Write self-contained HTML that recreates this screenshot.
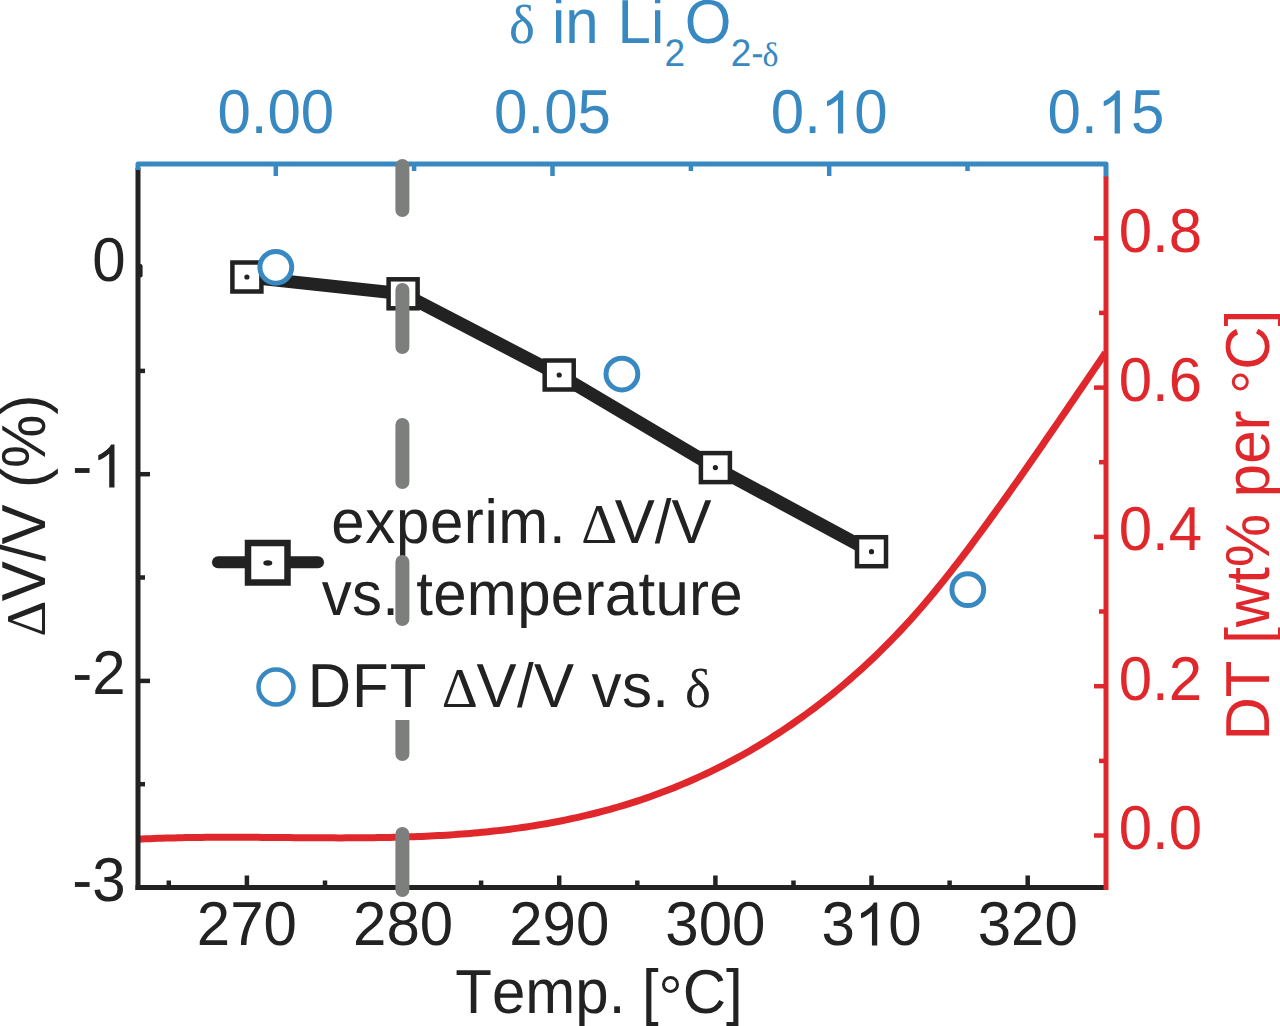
<!DOCTYPE html>
<html><head><meta charset="utf-8"><style>
html,body{margin:0;padding:0;background:#fff;width:1280px;height:1026px;overflow:hidden}
svg{display:block}
text{font-kerning:none;font-feature-settings:"kern" 0;text-rendering:geometricPrecision}
</style></head><body>
<svg width="1280" height="1026" viewBox="0 0 1280 1026">
<rect width="1280" height="1026" fill="#fff"/>
<path d="M138.0 839.21 L142.0 839.02 L146.0 838.83 L150.0 838.66 L154.0 838.51 L158.0 838.36 L162.0 838.22 L166.0 838.10 L170.0 837.98 L174.0 837.88 L178.0 837.78 L182.0 837.70 L186.0 837.62 L190.0 837.55 L194.0 837.49 L198.0 837.44 L202.0 837.39 L206.0 837.36 L210.0 837.32 L214.0 837.30 L218.0 837.28 L222.0 837.27 L226.0 837.26 L230.0 837.26 L234.0 837.26 L238.0 837.27 L242.0 837.28 L246.0 837.30 L250.0 837.32 L254.0 837.34 L258.0 837.36 L262.0 837.39 L266.0 837.42 L270.0 837.45 L274.0 837.48 L278.0 837.51 L282.0 837.54 L286.0 837.58 L290.0 837.61 L294.0 837.64 L298.0 837.68 L302.0 837.71 L306.0 837.74 L310.0 837.76 L314.0 837.79 L318.0 837.81 L322.0 837.83 L326.0 837.85 L330.0 837.86 L334.0 837.87 L338.0 837.88 L342.0 837.88 L346.0 837.87 L350.0 837.87 L354.0 837.85 L358.0 837.83 L362.0 837.80 L366.0 837.77 L370.0 837.73 L374.0 837.68 L378.0 837.62 L382.0 837.56 L386.0 837.48 L390.0 837.40 L394.0 837.31 L398.0 837.21 L402.0 837.10 L406.0 836.98 L410.0 836.85 L414.0 836.71 L418.0 836.56 L422.0 836.39 L426.0 836.22 L430.0 836.03 L434.0 835.83 L438.0 835.62 L442.0 835.39 L446.0 835.15 L450.0 834.89 L454.0 834.62 L458.0 834.34 L462.0 834.04 L466.0 833.73 L470.0 833.40 L474.0 833.05 L478.0 832.69 L482.0 832.31 L486.0 831.92 L490.0 831.51 L494.0 831.07 L498.0 830.63 L502.0 830.16 L506.0 829.67 L510.0 829.17 L514.0 828.64 L518.0 828.10 L522.0 827.53 L526.0 826.95 L530.0 826.34 L534.0 825.71 L538.0 825.06 L542.0 824.39 L546.0 823.70 L550.0 822.98 L554.0 822.24 L558.0 821.48 L562.0 820.70 L566.0 819.89 L570.0 819.05 L574.0 818.19 L578.0 817.31 L582.0 816.40 L586.0 815.46 L590.0 814.50 L594.0 813.51 L598.0 812.50 L602.0 811.46 L606.0 810.39 L610.0 809.29 L614.0 808.17 L618.0 807.01 L622.0 805.83 L626.0 804.62 L630.0 803.38 L634.0 802.11 L638.0 800.80 L642.0 799.47 L646.0 798.11 L650.0 796.72 L654.0 795.29 L658.0 793.83 L662.0 792.34 L666.0 790.82 L670.0 789.26 L674.0 787.67 L678.0 786.05 L682.0 784.39 L686.0 782.70 L690.0 780.97 L694.0 779.21 L698.0 777.42 L702.0 775.58 L706.0 773.71 L710.0 771.81 L714.0 769.87 L718.0 767.89 L722.0 765.87 L726.0 763.82 L730.0 761.72 L734.0 759.59 L738.0 757.42 L742.0 755.21 L746.0 752.96 L750.0 750.67 L754.0 748.34 L758.0 745.97 L762.0 743.56 L766.0 741.11 L770.0 738.61 L774.0 736.08 L778.0 733.50 L782.0 730.88 L786.0 728.21 L790.0 725.50 L794.0 722.75 L798.0 719.96 L802.0 717.11 L806.0 714.23 L810.0 711.30 L814.0 708.32 L818.0 705.29 L822.0 702.22 L826.0 699.09 L830.0 695.91 L834.0 692.69 L838.0 689.41 L842.0 686.07 L846.0 682.68 L850.0 679.24 L854.0 675.74 L858.0 672.18 L862.0 668.56 L866.0 664.89 L870.0 661.15 L874.0 657.36 L878.0 653.50 L882.0 649.57 L886.0 645.59 L890.0 641.54 L894.0 637.42 L898.0 633.24 L902.0 628.98 L906.0 624.66 L910.0 620.27 L914.0 615.81 L918.0 611.28 L922.0 606.67 L926.0 602.00 L930.0 597.25 L934.0 592.44 L938.0 587.56 L942.0 582.62 L946.0 577.62 L950.0 572.57 L954.0 567.46 L958.0 562.29 L962.0 557.08 L966.0 551.82 L970.0 546.52 L974.0 541.17 L978.0 535.78 L982.0 530.35 L986.0 524.89 L990.0 519.40 L994.0 513.87 L998.0 508.32 L1002.0 502.73 L1006.0 497.12 L1010.0 491.49 L1014.0 485.83 L1018.0 480.15 L1022.0 474.45 L1026.0 468.72 L1030.0 462.98 L1034.0 457.22 L1038.0 451.45 L1042.0 445.66 L1046.0 439.85 L1050.0 434.04 L1054.0 428.21 L1058.0 422.37 L1062.0 416.53 L1066.0 410.67 L1070.0 404.81 L1074.0 398.95 L1078.0 393.08 L1082.0 387.22 L1086.0 381.35 L1090.0 375.48 L1094.0 369.61 L1098.0 363.75 L1102.0 357.89 L1105.5 352.77" fill="none" stroke="#e0282c" stroke-width="7" stroke-linejoin="round"/>
<line x1="138.0" y1="168.0" x2="138.0" y2="890.0" stroke="#222222" stroke-width="5"/>
<line x1="135.5" y1="887.5" x2="1106.0" y2="887.5" stroke="#222222" stroke-width="5"/>
<line x1="1106.0" y1="176.0" x2="1106.0" y2="890.0" stroke="#e0282c" stroke-width="5"/>
<path d="M138.0 170 V164.0 H1106.0 V176.5" fill="none" stroke="#3889c2" stroke-width="5" stroke-linejoin="round"/>
<line x1="168.8" y1="887.5" x2="168.8" y2="880.5" stroke="#222222" stroke-width="4.5"/>
<line x1="246.9" y1="887.5" x2="246.9" y2="875.5" stroke="#222222" stroke-width="4.5"/>
<line x1="325.0" y1="887.5" x2="325.0" y2="880.5" stroke="#222222" stroke-width="4.5"/>
<line x1="403.1" y1="887.5" x2="403.1" y2="875.5" stroke="#222222" stroke-width="4.5"/>
<line x1="481.1" y1="887.5" x2="481.1" y2="880.5" stroke="#222222" stroke-width="4.5"/>
<line x1="559.2" y1="887.5" x2="559.2" y2="875.5" stroke="#222222" stroke-width="4.5"/>
<line x1="637.3" y1="887.5" x2="637.3" y2="880.5" stroke="#222222" stroke-width="4.5"/>
<line x1="715.4" y1="887.5" x2="715.4" y2="875.5" stroke="#222222" stroke-width="4.5"/>
<line x1="793.5" y1="887.5" x2="793.5" y2="880.5" stroke="#222222" stroke-width="4.5"/>
<line x1="871.5" y1="887.5" x2="871.5" y2="875.5" stroke="#222222" stroke-width="4.5"/>
<line x1="949.6" y1="887.5" x2="949.6" y2="880.5" stroke="#222222" stroke-width="4.5"/>
<line x1="1027.7" y1="887.5" x2="1027.7" y2="875.5" stroke="#222222" stroke-width="4.5"/>
<line x1="138.0" y1="784.2" x2="145.0" y2="784.2" stroke="#222222" stroke-width="4.5"/>
<line x1="138.0" y1="680.9" x2="150.0" y2="680.9" stroke="#222222" stroke-width="4.5"/>
<line x1="138.0" y1="577.5" x2="145.0" y2="577.5" stroke="#222222" stroke-width="4.5"/>
<line x1="138.0" y1="474.2" x2="150.0" y2="474.2" stroke="#222222" stroke-width="4.5"/>
<line x1="138.0" y1="370.9" x2="145.0" y2="370.9" stroke="#222222" stroke-width="4.5"/>
<rect x="138" y="264" width="4.6" height="13.5" rx="2.2" fill="#222222"/>
<line x1="275.8" y1="164.0" x2="275.8" y2="176.0" stroke="#3889c2" stroke-width="4.5"/>
<line x1="414.1" y1="164.0" x2="414.1" y2="171.0" stroke="#3889c2" stroke-width="4.5"/>
<line x1="552.5" y1="164.0" x2="552.5" y2="176.0" stroke="#3889c2" stroke-width="4.5"/>
<line x1="690.9" y1="164.0" x2="690.9" y2="171.0" stroke="#3889c2" stroke-width="4.5"/>
<line x1="829.2" y1="164.0" x2="829.2" y2="176.0" stroke="#3889c2" stroke-width="4.5"/>
<line x1="967.5" y1="164.0" x2="967.5" y2="171.0" stroke="#3889c2" stroke-width="4.5"/>
<line x1="1106.0" y1="835.5" x2="1094.0" y2="835.5" stroke="#e0282c" stroke-width="4.5"/>
<line x1="1106.0" y1="760.9" x2="1099.0" y2="760.9" stroke="#e0282c" stroke-width="4.5"/>
<line x1="1106.0" y1="686.2" x2="1094.0" y2="686.2" stroke="#e0282c" stroke-width="4.5"/>
<line x1="1106.0" y1="611.5" x2="1099.0" y2="611.5" stroke="#e0282c" stroke-width="4.5"/>
<line x1="1106.0" y1="536.9" x2="1094.0" y2="536.9" stroke="#e0282c" stroke-width="4.5"/>
<line x1="1106.0" y1="462.2" x2="1099.0" y2="462.2" stroke="#e0282c" stroke-width="4.5"/>
<line x1="1106.0" y1="387.6" x2="1094.0" y2="387.6" stroke="#e0282c" stroke-width="4.5"/>
<line x1="1106.0" y1="312.9" x2="1099.0" y2="312.9" stroke="#e0282c" stroke-width="4.5"/>
<line x1="1106.0" y1="238.3" x2="1094.0" y2="238.3" stroke="#e0282c" stroke-width="4.5"/>
<g transform="translate(196.85 945.40) scale(1 1.0350)"><text x="0" y="0" font-family="'Liberation Sans', sans-serif" font-size="60" fill="#222222">270</text></g>
<g transform="translate(353.01 945.40) scale(1 1.0350)"><text x="0" y="0" font-family="'Liberation Sans', sans-serif" font-size="60" fill="#222222">280</text></g>
<g transform="translate(509.17 945.40) scale(1 1.0350)"><text x="0" y="0" font-family="'Liberation Sans', sans-serif" font-size="60" fill="#222222">290</text></g>
<g transform="translate(665.33 945.40) scale(1 1.0350)"><text x="0" y="0" font-family="'Liberation Sans', sans-serif" font-size="60" fill="#222222">300</text></g>
<g transform="translate(821.49 945.40) scale(1 1.0350)"><text x="0.00" y="0" font-family="'Liberation Sans', sans-serif" font-size="60" fill="#222222">3</text><path d="M763 0L583 0L583 1147Q518 1085 412.5 1023Q307 961 210 925L210 1099Q384 1181 499 1282.5Q614 1384 649 1466L763 1466Z" transform="translate(33.37 0) scale(0.02930 -0.02831)" fill="#222222"/><text x="66.74" y="0" font-family="'Liberation Sans', sans-serif" font-size="60" fill="#222222">0</text></g>
<g transform="translate(977.65 945.40) scale(1 1.0350)"><text x="0" y="0" font-family="'Liberation Sans', sans-serif" font-size="60" fill="#222222">320</text></g>
<g transform="translate(92.13 280.70) scale(1 1.0350)"><text x="0" y="0" font-family="'Liberation Sans', sans-serif" font-size="60" fill="#222222">0</text></g>
<g transform="translate(72.15 487.40) scale(1 1.0350)"><text x="0.00" y="0" font-family="'Liberation Sans', sans-serif" font-size="60" fill="#222222">-</text><path d="M763 0L583 0L583 1147Q518 1085 412.5 1023Q307 961 210 925L210 1099Q384 1181 499 1282.5Q614 1384 649 1466L763 1466Z" transform="translate(19.98 0) scale(0.02930 -0.02831)" fill="#222222"/></g>
<g transform="translate(72.15 694.10) scale(1 1.0350)"><text x="0" y="0" font-family="'Liberation Sans', sans-serif" font-size="60" fill="#222222">-2</text></g>
<g transform="translate(72.15 900.80) scale(1 1.0350)"><text x="0" y="0" font-family="'Liberation Sans', sans-serif" font-size="60" fill="#222222">-3</text></g>
<g transform="translate(217.41 133.40) scale(1 1.0350)"><text x="0" y="0" font-family="'Liberation Sans', sans-serif" font-size="60" fill="#3889c2">0.00</text></g>
<g transform="translate(494.11 133.40) scale(1 1.0350)"><text x="0" y="0" font-family="'Liberation Sans', sans-serif" font-size="60" fill="#3889c2">0.05</text></g>
<g transform="translate(770.81 133.40) scale(1 1.0350)"><text x="0.00" y="0" font-family="'Liberation Sans', sans-serif" font-size="60" fill="#3889c2">0.</text><path d="M763 0L583 0L583 1147Q518 1085 412.5 1023Q307 961 210 925L210 1099Q384 1181 499 1282.5Q614 1384 649 1466L763 1466Z" transform="translate(50.04 0) scale(0.02930 -0.02831)" fill="#3889c2"/><text x="83.41" y="0" font-family="'Liberation Sans', sans-serif" font-size="60" fill="#3889c2">0</text></g>
<g transform="translate(1047.51 133.40) scale(1 1.0350)"><text x="0.00" y="0" font-family="'Liberation Sans', sans-serif" font-size="60" fill="#3889c2">0.</text><path d="M763 0L583 0L583 1147Q518 1085 412.5 1023Q307 961 210 925L210 1099Q384 1181 499 1282.5Q614 1384 649 1466L763 1466Z" transform="translate(50.04 0) scale(0.02930 -0.02831)" fill="#3889c2"/><text x="83.41" y="0" font-family="'Liberation Sans', sans-serif" font-size="60" fill="#3889c2">5</text></g>
<g transform="translate(1118.66 849.00) scale(1 1.0350)"><text x="0" y="0" font-family="'Liberation Sans', sans-serif" font-size="60" fill="#e0282c">0.0</text></g>
<g transform="translate(1118.66 699.70) scale(1 1.0350)"><text x="0" y="0" font-family="'Liberation Sans', sans-serif" font-size="60" fill="#e0282c">0.2</text></g>
<g transform="translate(1118.66 550.40) scale(1 1.0350)"><text x="0" y="0" font-family="'Liberation Sans', sans-serif" font-size="60" fill="#e0282c">0.4</text></g>
<g transform="translate(1118.66 401.10) scale(1 1.0350)"><text x="0" y="0" font-family="'Liberation Sans', sans-serif" font-size="60" fill="#e0282c">0.6</text></g>
<g transform="translate(1118.66 251.80) scale(1 1.0350)"><text x="0" y="0" font-family="'Liberation Sans', sans-serif" font-size="60" fill="#e0282c">0.8</text></g>
<g transform="translate(455.35 1012.90) scale(1 1.0350)"><text x="0" y="0" font-family="'Liberation Sans', sans-serif" font-size="60" fill="#222222">Temp. [</text></g>
<g transform="translate(682.77 1012.90) scale(1 1.0350)"><text x="0" y="0" font-family="'Liberation Sans', sans-serif" font-size="60" fill="#222222">C]</text></g>
<circle cx="670.5" cy="984.4" r="7" fill="none" stroke="#222222" stroke-width="3"/>
<g transform="translate(45.2 634.5) rotate(-90)"><g transform="translate(-2.13 0.00) scale(1 1.0000)"><text x="0" y="0" font-family="'Liberation Serif', serif" font-size="56" fill="#222222">Δ</text></g><g transform="translate(33.24 0.00) scale(1 1.0350)"><text x="0" y="0" font-family="'Liberation Sans', sans-serif" font-size="60" fill="#222222">V/V (%)</text></g></g>
<g transform="translate(1268.8 740.5) rotate(-90)"><g transform="translate(0.00 0.00) scale(1 1.0350)"><text x="0" y="0" font-family="'Liberation Sans', sans-serif" font-size="60" fill="#e0282c">DT [wt% per </text></g><g transform="translate(370.72 0.00) scale(1 1.0350)"><text x="0" y="0" font-family="'Liberation Sans', sans-serif" font-size="60" fill="#e0282c">C]</text></g></g>
<circle cx="1240.3" cy="381.9" r="7" fill="none" stroke="#e0282c" stroke-width="3"/>
<g transform="translate(509.03 42.50) scale(1 1.0000)"><text x="0" y="0" font-family="'Liberation Serif', serif" font-size="55" fill="#3889c2">δ</text></g>
<g transform="translate(551.89 42.50) scale(1 1.0350)"><text x="0" y="0" font-family="'Liberation Sans', sans-serif" font-size="60" fill="#3889c2">in</text></g>
<g transform="translate(617.58 42.50) scale(1 1.0350)"><text x="0" y="0" font-family="'Liberation Sans', sans-serif" font-size="60" fill="#3889c2">Li</text></g>
<g transform="translate(664.54 66.20) scale(1 1.0350)"><text x="0" y="0" font-family="'Liberation Sans', sans-serif" font-size="37" fill="#3889c2">2</text></g>
<g transform="translate(684.86 42.50) scale(1 1.0350)"><text x="0" y="0" font-family="'Liberation Sans', sans-serif" font-size="60" fill="#3889c2">O</text></g>
<g transform="translate(730.64 66.20) scale(1 1.0350)"><text x="0" y="0" font-family="'Liberation Sans', sans-serif" font-size="37" fill="#3889c2">2-</text></g>
<g transform="translate(762.42 66.20) scale(1 1.0000)"><text x="0" y="0" font-family="'Liberation Serif', serif" font-size="34" fill="#3889c2">δ</text></g>
<polyline points="246.9,277.0 403.1,293.8 559.2,375.0 715.4,467.6 871.5,551.7" fill="none" stroke="#222222" stroke-width="13" stroke-linejoin="miter"/>
<rect x="232.4" y="262.5" width="29" height="29" fill="#fff" stroke="#222222" stroke-width="4.5"/>
<circle cx="246.9" cy="277.0" r="2.6" fill="#222222"/>
<rect x="388.6" y="279.3" width="29" height="29" fill="#fff" stroke="#222222" stroke-width="4.5"/>
<circle cx="403.1" cy="293.8" r="2.6" fill="#222222"/>
<rect x="544.7" y="360.5" width="29" height="29" fill="#fff" stroke="#222222" stroke-width="4.5"/>
<circle cx="559.2" cy="375.0" r="2.6" fill="#222222"/>
<rect x="700.9" y="453.1" width="29" height="29" fill="#fff" stroke="#222222" stroke-width="4.5"/>
<circle cx="715.4" cy="467.6" r="2.6" fill="#222222"/>
<rect x="857.0" y="537.2" width="29" height="29" fill="#fff" stroke="#222222" stroke-width="4.5"/>
<circle cx="871.5" cy="551.7" r="2.6" fill="#222222"/>
<circle cx="275.8" cy="267.3" r="15.9" fill="#fff" stroke="#3889c2" stroke-width="5"/>
<circle cx="621.9" cy="374.1" r="15.9" fill="#fff" stroke="#3889c2" stroke-width="5"/>
<circle cx="967.8" cy="589.7" r="15.9" fill="#fff" stroke="#3889c2" stroke-width="5"/>
<line x1="218" y1="562.2" x2="318" y2="562.2" stroke="#222222" stroke-width="12" stroke-linecap="round"/>
<rect x="248" y="543" width="39.5" height="39.5" fill="#fff" stroke="#222222" stroke-width="6.5"/>
<ellipse cx="267.8" cy="563" rx="4.5" ry="2.8" fill="#222222"/>
<g transform="translate(331.35 542.50) scale(1 1.0350)"><text x="0" y="0" font-family="'Liberation Sans', sans-serif" font-size="60" fill="#222222" letter-spacing="0.6">experim. </text></g>
<g transform="translate(581.37 542.50) scale(1 1.0000)"><text x="0" y="0" font-family="'Liberation Serif', serif" font-size="56" fill="#222222">Δ</text></g>
<g transform="translate(614.74 542.50) scale(1 1.0350)"><text x="0" y="0" font-family="'Liberation Sans', sans-serif" font-size="60" fill="#222222">V/V</text></g>
<g transform="translate(321.69 614.70) scale(1 1.0350)"><text x="0" y="0" font-family="'Liberation Sans', sans-serif" font-size="60" fill="#222222" letter-spacing="0.3">vs. temperature</text></g>
<circle cx="276" cy="687" r="17.5" fill="#fff" stroke="#3889c2" stroke-width="4.5"/>
<g transform="translate(307.78 706.70) scale(1 1.0350)"><text x="0" y="0" font-family="'Liberation Sans', sans-serif" font-size="60" fill="#222222" letter-spacing="1">DFT</text></g>
<g transform="translate(441.87 706.70) scale(1 1.0000)"><text x="0" y="0" font-family="'Liberation Serif', serif" font-size="56" fill="#222222">Δ</text></g>
<g transform="translate(476.54 706.70) scale(1 1.0350)"><text x="0" y="0" font-family="'Liberation Sans', sans-serif" font-size="60" fill="#222222" letter-spacing="0.4">V/V vs.</text></g>
<g transform="translate(685.03 706.70) scale(1 1.0000)"><text x="0" y="0" font-family="'Liberation Serif', serif" font-size="55" fill="#222222">δ</text></g>
<rect x="395.4" y="159" width="14" height="58" rx="7" fill="#7d7f7d"/>
<rect x="395.4" y="283" width="14" height="71" rx="7" fill="#7d7f7d"/>
<rect x="395.4" y="418" width="14" height="71" rx="7" fill="#7d7f7d"/>
<rect x="395.4" y="555" width="14" height="71" rx="7" fill="#7d7f7d"/>
<path d="M395.4 720.0 V754.0 A7 7 0 0 0 409.4 754.0 V720.0 Z" fill="#7d7f7d"/>
<rect x="395.4" y="827" width="14" height="70" rx="7" fill="#7d7f7d"/>
</svg>
</body></html>
